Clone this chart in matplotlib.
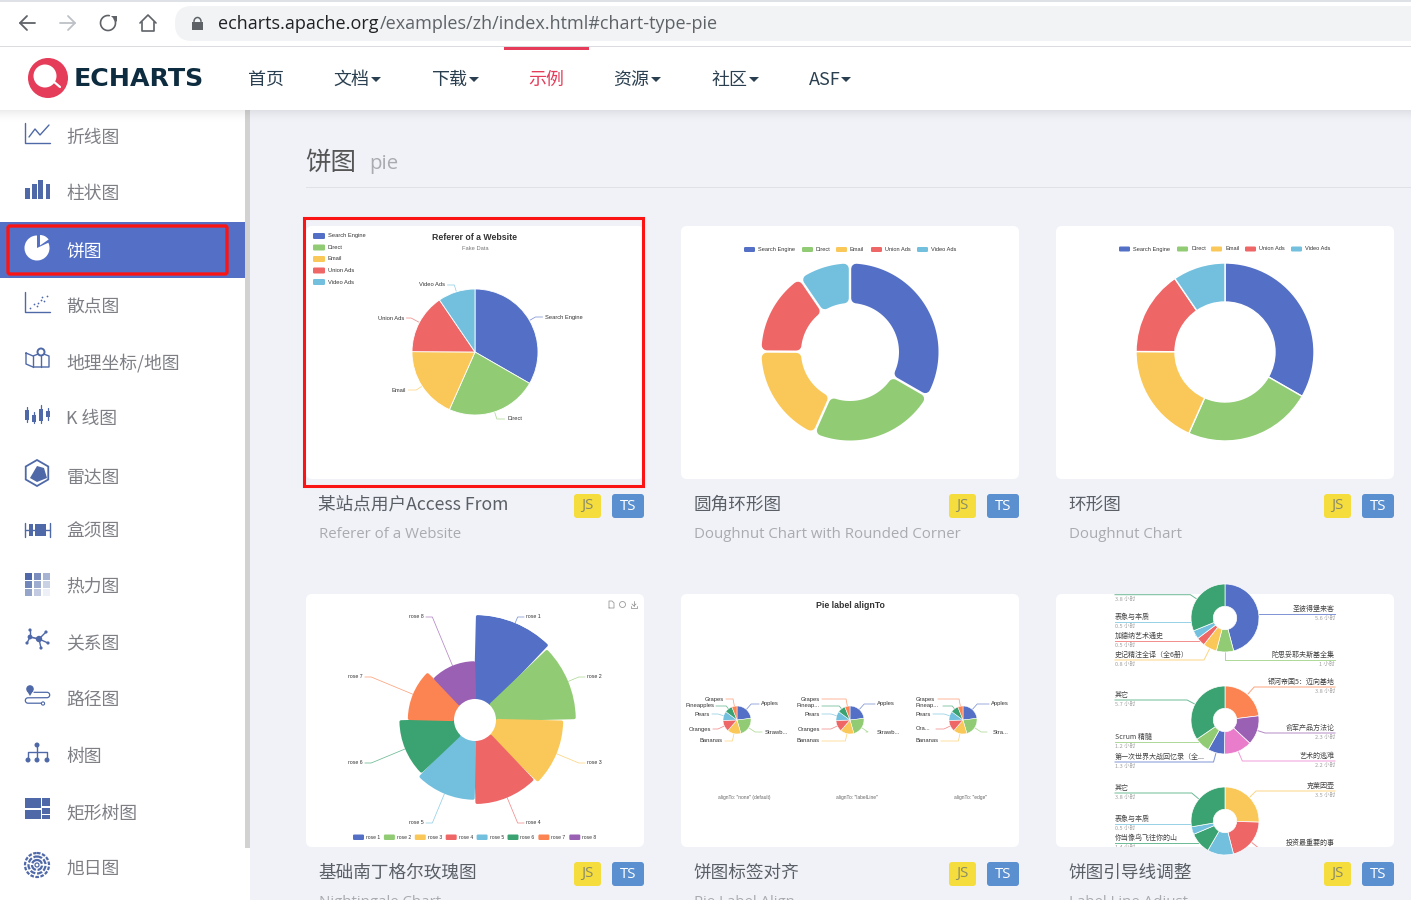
import numpy as np
import matplotlib
matplotlib.use("Agg")
import matplotlib.pyplot as plt
from matplotlib.patches import Rectangle, FancyBboxPatch, Circle, Wedge, Polygon, RegularPolygon
from matplotlib.transforms import Bbox

# values
palette = ["#5470c6", "#91cc75", "#fac858", "#ee6666", "#73c0de", "#3ba272", "#fc8452", "#9a60b4", "#ea7ccc"]

nav_items = ["首页", "文档", "下载", "示例", "资源", "社区", "ASF"]
side_items = ["折线图", "柱状图", "饼图", "散点图", "地理坐标/地图", "K 线图", "雷达图", "盒须图",
              "热力图", "关系图", "路径图", "树图", "矩形树图", "旭日图"]

card_titles = ["某站点用户Access From", "圆角环形图", "环形图", "基础南丁格尔玫瑰图", "饼图标签对齐", "饼图引导线调整"]
card_subtitles = ["Referer of a Website", "Doughnut Chart with Rounded Corner", "Doughnut Chart",
                  "Nightingale Chart", "Pie Label Align", "Label Line Adjust"]

source_names = ["Search Engine", "Direct", "Email", "Union Ads", "Video Ads"]
source_values = [1048, 735, 580, 484, 300]

rose_names = ["rose 1", "rose 2", "rose 3", "rose 4", "rose 5", "rose 6", "rose 7", "rose 8"]
rose_values = [40, 38, 32, 30, 28, 26, 22, 18]

fruit_values = [70, 68, 48, 40, 32, 27, 18]
fruit_full = ["Apples", "Strawb...", "Bananas", "Oranges", "Pears", "Pineapples", "Grapes"]
fruit_line = ["Apples", "Strawb...", "Bananas", "Oranges", "Pears", "Pineap...", "Grapes"]
fruit_edge = ["Apples", "Stra...", "Bananas", "Ora...", "Pears", "Pineap...", "Grapes"]
align_captions = ['alignTo: "none" (default)', 'alignTo: "labelLine"', 'alignTo: "edge"']

books_a = ["圣彼得堡来客", "陀思妥耶夫斯基全集", "史记精注全译（全6册）", "加德纳艺术通史", "表象与本质", "其它"]
hours_a = [5.6, 1, 0.8, 0.5, 0.5, 3.8]
colors_a = [0, 1, 2, 3, 4, 5]
books_b = ["银河帝国5：迈向基地", "俞军产品方法论", "艺术的逃难", "第一次世界大战回忆录（全...", "Scrum 精髓", "其它"]
hours_b = [3.8, 2.3, 2.2, 1.3, 1.2, 5.7]
colors_b = [6, 7, 8, 0, 1, 5]
books_c = ["克莱因壶", "投资最重要的事", "简读中国史", "你当像鸟飞往你的山", "表象与本质", "其它"]
hours_c = [3.5, 2.8, 1.7, 1.4, 0.5, 3.8]
colors_c = [2, 3, 4, 5, 4, 5]

CJK = ["Noto Sans CJK SC", "DejaVu Sans"]
LATIN = ["Liberation Sans", "DejaVu Sans"]
ICON = "#4f69a8"
W, H = 1411, 900

fig = plt.figure(figsize=(W / 100, H / 100), dpi=100, facecolor="white")
page = fig.add_axes([0, 0, 1, 1], zorder=0)
page.set_xlim(0, W)
page.set_ylim(H, 0)
page.axis("off")


def txt(x, y, s, px, color="#333333", ha="left", va="center", weight="normal", family=CJK, **kw):
    return page.text(x, y, s, fontsize=px * 0.72, color=color, ha=ha, va=va, weight=weight, family=family, **kw)


def box(x0, y0, x1, y1, color, z=1, **kw):
    page.add_patch(Rectangle((x0, y0), x1 - x0, y1 - y0, facecolor=color, edgecolor="none", zorder=z, **kw))


def rbox(x0, y0, x1, y1, color, rad=3, z=1, **kw):
    p = FancyBboxPatch((x0 + rad, y0 + rad), x1 - x0 - 2 * rad, y1 - y0 - 2 * rad,
                       boxstyle="round,pad=%g,rounding_size=%g" % (rad, rad),
                       facecolor=color, edgecolor="none", zorder=z, **kw)
    page.add_patch(p)
    return p


def stroke(xs, ys, color=ICON, lw=1.0, z=4, **kw):
    page.plot(xs, ys, color=color, lw=lw, zorder=z, solid_capstyle="round", solid_joinstyle="round", **kw)


def pie_axes(cx, cy, r, top=0, bottom=H):
    # axes box in page pixels, cropped to the card
    y0, y1 = max(cy - r, top), min(cy + r, bottom)
    ax = fig.add_axes([(cx - r) / W, 1 - y1 / H, 2 * r / W, (y1 - y0) / H], zorder=2)
    return ax, (-r, r), (cy - y1, cy - y0)


def draw_pie(cx, cy, r, values, colors, inner=0, top=0, bottom=H, edge=1.0):
    ax, xl, yl = pie_axes(cx, cy, r, top, bottom)
    wp = dict(edgecolor="white", linewidth=edge)
    if inner:
        wp["width"] = r - inner
    wedges, _ = ax.pie(values, colors=colors, radius=r, startangle=90, counterclock=False, wedgeprops=wp)
    ax.set_aspect("auto")
    ax.set_xlim(*xl)
    ax.set_ylim(*yl)
    return [np.radians(90 - (w.theta1 + w.theta2) / 2) for w in wedges]


def leader(cx, cy, r, mid, line_y, end_x, color, clip=None, lw=0.55):
    # radial stub up to the label height, then flat out to the label
    sx, sy = cx + r * np.sin(mid), cy - r * np.cos(mid)
    c = np.cos(mid)
    t_len = (line_y - sy) / (-c) if abs(c) > 0.05 else 0
    ex = sx + max(t_len, 0) * np.sin(mid)
    lines = page.plot([sx, ex, end_x], [sy, line_y, line_y], color=color, lw=lw, zorder=1.5, alpha=0.75,
                      solid_joinstyle="round")
    if clip is not None:
        lines[0].set_clip_box(clip)


# ---- page background and chrome
box(250, 110, W, H, "#f0f2f8", z=0)
box(0, 0, W, 2, "#dee1e6", z=5)
box(0, 46, W, 47, "#dadce0", z=5)
rbox(175, 6, W + 40, 41, "#f1f3f4", rad=17, z=5)
txt(218, 24, "echarts.apache.org", 18, "#202124", family="Open Sans", zorder=6)
txt(380, 24, "/examples/zh/index.html#chart-type-pie", 18, "#5f6368", family="Open Sans", zorder=6)

# browser buttons
stroke([20, 35], [23, 23], "#5f6368", 1.3, z=6)
stroke([27, 20, 27], [16, 23, 30], "#5f6368", 1.3, z=6)
stroke([60, 75], [23, 23], "#bdc1c6", 1.3, z=6)
stroke([68, 75, 68], [16, 23, 30], "#bdc1c6", 1.3, z=6)
ang = np.radians(np.linspace(-35, 280, 40))
stroke(108 + 7.5 * np.cos(ang), 23 + 7.5 * np.sin(ang), "#5f6368", 1.2, z=6)
page.add_patch(Polygon([[111, 16], [117, 16], [117, 22]], facecolor="#5f6368", zorder=6))
stroke([140, 148, 156], [23, 15, 23], "#5f6368", 1.2, z=6)
stroke([142, 142, 154, 154], [22, 31, 31, 22], "#5f6368", 1.2, z=6)
box(192, 22, 203, 30, "#5f6368", z=6)
ang = np.radians(np.linspace(180, 360, 20))
stroke(197.5 + 3.5 * np.cos(ang), 21.5 + 4 * np.sin(ang), "#5f6368", 1.1, z=6)

# header bar with soft shadow
for i in range(14):
    box(0, 110 + i, W, 111 + i, "#000000", z=3, alpha=0.07 * (1 - i / 14) ** 2)
box(0, 47, W, 110, "white", z=3)
box(504, 47, 589, 49.5, "#e43c59", z=4)

page.add_patch(Circle((48, 78), 20, facecolor="#e43c59", zorder=4))
page.add_patch(Circle((45, 76), 11.5, facecolor="white", zorder=4))
stroke([53, 60], [81, 87], "white", 1.6, z=5)
txt(74, 79, "ECHARTS", 25.2, "#0d2c3f", weight="bold", family="DejaVu Sans", zorder=4)

nav_x = [248, 333, 431, 528, 613, 711, 809]
for name, x in zip(nav_items, nav_x):
    col = "#e43c59" if name == "示例" else "#2a3f4f"
    t = txt(x, 80, name, 18, col, zorder=5)
    if name not in ("首页", "示例"):
        ax0 = x + (38 if name != "ASF" else 32)
        page.add_patch(Polygon([[ax0, 77], [ax0 + 10, 77], [ax0 + 5, 82]], facecolor="#2a3f4f", zorder=5))

# sidebar
box(0, 110, 245, H, "white", z=1)
box(245, 110, 250, 848, "#d2d2d2", z=1)
box(0, 222, 245, 278, "#5470c6", z=1.2)
page.add_patch(FancyBboxPatch((8, 226), 219, 48, boxstyle="round,pad=0,rounding_size=2", facecolor="none",
                              edgecolor="#fa1414", lw=2.4, zorder=1.3))
side_y = [138, 194, 252, 307, 363, 419, 478, 532, 588, 644, 700, 757, 813, 869]
for name, y in zip(side_items, side_y):
    txt(66.5, y, name, 17.8, "white" if name == "饼图" else "#7d7f85", zorder=4)

# line icon
stroke([25, 25, 50], [123, 143, 143])
stroke([29, 35, 40, 49], [137, 129, 135, 125])
# bar icon
for x0, x1, y0 in [(25, 30, 188), (32, 37, 184), (38, 43, 180), (46, 50, 184)]:
    box(x0, y0, x1, 199, ICON, z=4)
# pie icon
page.add_patch(Wedge((37, 248), 12.5, -25, 270, facecolor="white", zorder=4))
page.add_patch(Wedge((40, 245.5), 10.5, 270, 325, facecolor="white", zorder=4))
# scatter icon
stroke([25, 25, 50], [292, 312, 312])
page.scatter([30, 34, 38, 42, 44, 47, 37, 41], [308, 304, 303, 297, 301, 296, 306, 300], s=1.6, color=ICON, zorder=4,
             linewidths=0)
# map icon
stroke([26, 33, 41, 49, 49, 41, 33, 26, 26], [353, 356, 353, 356, 367, 367, 367, 364, 353])
stroke([33, 33], [356, 367])
stroke([41, 41], [356, 367])
page.add_patch(Circle((41, 352), 3.5, facecolor="white", edgecolor=ICON, lw=1.4, zorder=5))
# candle icon
for x, y0, y1, b0, b1 in [(27, 407, 422, 410, 420), (34, 412, 423, 415, 422), (41, 405, 423, 409, 421),
                          (48, 408, 420, 411, 417)]:
    stroke([x, x], [y0, y1], lw=0.9)
    box(x - 2, b0, x + 2, b1, ICON, z=4)
# radar icon
page.add_patch(RegularPolygon((37, 473), 6, radius=13, facecolor="none", edgecolor=ICON, lw=1.3, zorder=4))
page.add_patch(Polygon([[30, 478], [37, 466], [44, 468], [47, 478], [37, 482]], facecolor=ICON, zorder=4))
# boxplot icon
stroke([25, 25], [523, 537])
stroke([50, 50], [523, 537])
stroke([25, 50], [530, 530])
box(29, 524, 33, 536, ICON, z=4)
box(35, 524, 46, 536, ICON, z=4)
# heatmap icon
for j, y0 in enumerate([573, 581, 589]):
    for i, x0 in enumerate([25, 34, 43]):
        box(x0, y0, x0 + 7, y0 + 6.5, ICON, z=4, alpha=1 - 0.25 * i - 0.2 * j)
# graph icon
for x, y in [(30, 637), (30, 630), (27, 643), (46, 632), (48, 643), (41, 648)]:
    hub = (39, 639) if x > 35 else (30, 637)
    stroke([hub[0], x], [hub[1], y], lw=1.0)
    page.add_patch(Circle((x, y), 1.6, facecolor=ICON, zorder=4))
stroke([30, 39], [637, 639], lw=1.2)
page.add_patch(Circle((39, 639), 3.2, facecolor=ICON, zorder=4))
page.add_patch(Circle((30, 637), 2.4, facecolor=ICON, zorder=4))
# route icon
page.add_patch(Circle((30, 689), 3.8, facecolor=ICON, zorder=4))
page.add_patch(Polygon([[27, 691], [33, 691], [30, 696]], facecolor=ICON, zorder=4))
ang = np.radians(np.linspace(-90, 90, 12))
rx = 47 + 2.7 * np.cos(ang)
ry = 695 + 2.7 * np.sin(ang)
lx = 28 - 2.7 * np.cos(ang)
ly = 700.5 + 2.7 * np.sin(ang)
stroke(np.r_[34, rx, lx, 43], np.r_[692.3, ry, ly, 703.2], lw=0.9)
page.add_patch(Circle((43, 703.5), 1.6, facecolor="white", edgecolor=ICON, lw=0.8, zorder=5))
# tree icon
stroke([37, 37], [745, 760], lw=1.0)
stroke([28, 28, 47, 47], [760, 752, 752, 760], lw=1.0)
for x, y in [(37, 745), (28, 760), (37, 760), (47, 760)]:
    page.add_patch(Circle((x, y), 2.5, facecolor=ICON, zorder=4))
# treemap icon
for x0, x1, y0, y1 in [(25, 40.5, 798, 808), (25, 40.5, 809.5, 819), (42, 50, 798, 806), (42, 50, 807.5, 814),
                       (42, 50, 815, 819)]:
    box(x0, y0, x1, y1, ICON, z=4)
# sunburst icon
for rad, dash in [(12, (1.6, 0.7)), (8.5, (2.4, 0.8)), (5, (3, 0.8))]:
    page.add_patch(Circle((37, 865), rad, facecolor="none", edgecolor=ICON, lw=1.6, ls=(0, dash), zorder=4))
page.add_patch(Circle((37, 865), 2, facecolor="none", edgecolor=ICON, lw=0.9, zorder=4))

# heading
txt(305, 163, "饼图", 25.5, "#555555")
txt(369, 164, "pie", 20.5, "#a9abb0", family="Open Sans")
box(306, 187, W, 188, "#dfe1e6", z=1)

# ---- cards
col_x = [306, 681, 1056]
row_y = [226, 594]
cards = []
for r, y0 in enumerate(row_y):
    for c, x0 in enumerate(col_x):
        cards.append(rbox(x0, y0, x0 + 338, y0 + 253, "white", rad=6, z=1))
        i = r * 3 + c
        txt(x0 + 12.5, y0 + 279, card_titles[i], 17.6, "#5a5f66")
        txt(x0 + 13, y0 + 308, card_subtitles[i], 15, "#a9abb0", family="Open Sans")
        rbox(x0 + 268, y0 + 268, x0 + 295, y0 + 292, "#f5dd3d", rad=3)
        txt(x0 + 281.5, y0 + 280, "JS", 15, "#8a8a6a", ha="center", family="Open Sans")
        rbox(x0 + 306, y0 + 268, x0 + 338, y0 + 292, "#5a8fd0", rad=3)
        txt(x0 + 322, y0 + 280, "TS", 15, "white", ha="center", family="Open Sans")

page.add_patch(Rectangle((304, 218), 339, 268, facecolor="none", edgecolor="#fa1414", lw=2.2, zorder=2))

# card 1, plain pie
txt(475, 237, "Referer of a Website", 8.8, "#333333", ha="center", weight="bold", family=LATIN)
txt(475, 249, "Fake Data", 5.8, "#777777", ha="center", family=LATIN)
for i, name in enumerate(source_names):
    y = 236 + 11.5 * i
    rbox(313, y - 3, 325, y + 3, palette[i], rad=1.2)
    txt(328, y, name, 5.8, "#333333", family=LATIN)
mids = draw_pie(475, 352, 63, source_values, palette[:5], edge=0.6)
label_spots = [(317, 545, "left"), (419, 507, "left"), (390, 406, "right"), (318, 404, "right"), (285, 445, "right")]
for mid, name, col, (y, x, ha) in zip(mids, source_names, palette, label_spots):
    end = x - 2.5 if ha == "left" else x + 2.5
    leader(475, 352, 63, mid, y, end, col)
    txt(x, y, name, 5.8, "#333333", ha=ha, family=LATIN)


# card 2, doughnut with rounded corners
def rounded_ring(cx, cy, outer, inner, values, colors, corner=5.0, gap=1.2):
    ax, xl, yl = pie_axes(cx, cy, outer)
    ax.set_xlim(*xl)
    ax.set_ylim(*yl)
    ax.axis("off")
    edges = np.r_[0, np.cumsum(values)] / np.sum(values) * 2 * np.pi
    ro, ri = outer - corner, inner + corner
    d = corner + gap
    for a0, a1, col in zip(edges[:-1], edges[1:], colors):
        ta = np.linspace(a0 + d / ro, a1 - d / ro, 60)
        tb = np.linspace(a1 - d / ri, a0 + d / ri, 60)
        pts = np.r_[np.c_[ro * np.sin(ta), ro * np.cos(ta)], np.c_[ri * np.sin(tb), ri * np.cos(tb)]]
        ax.add_patch(Polygon(pts, closed=True, facecolor=col, edgecolor=col, lw=corner * 2 * 0.72,
                             joinstyle="round", clip_on=False))


def top_legend(xs, y):
    for x, name, col in zip(xs, source_names, palette):
        rbox(x, y - 2.5, x + 11, y + 2.5, col, rad=1.2)
        txt(x + 14, y, name, 5.6, "#333333", family=LATIN)


top_legend([744, 802, 836, 871, 917], 249.5)
rounded_ring(850, 352, 88.5, 49, source_values, palette[:5])

# card 3, doughnut
top_legend([1119, 1177, 1211, 1245, 1291], 249)
draw_pie(1225, 352, 89, source_values, palette[:5], inner=50, edge=1.0)

# card 4, rose chart on a polar axis
RC, RY, RR = 475, 720, 105
rose = fig.add_axes([(RC - RR) / W, 1 - (RY + RR) / H, 2 * RR / W, 2 * RR / H], projection="polar", zorder=2)
rose.set_theta_zero_location("N")
rose.set_theta_direction(-1)
rose.set_rlim(0, 50)
rose.axis("off")
theta = (np.arange(8) + 0.5) * np.pi / 4
rose.bar(theta, np.array(rose_values) - 1.6, width=np.pi / 4 - 0.05, bottom=10.8, color=palette[:8],
         edgecolor=palette[:8], linewidth=2.4, joinstyle="round")
rose_spots = [(617, 526, "left"), (677, 587, "left"), (763, 587, "left"), (823, 526, "left"),
              (823, 424, "right"), (763, 363, "right"), (677, 363, "right"), (617, 424, "right")]
for th, v, name, col, (y, x, ha) in zip(theta, rose_values, rose_names, palette, rose_spots):
    end = x - 2 if ha == "left" else x + 2
    leader(RC, RY, 21 + 84 * v / 40, th, y, end, col)
    txt(x, y, name, 5.3, "#333333", ha=ha, family=LATIN)
for i, name in enumerate(rose_names):
    x = 353 + 30.9 * i
    rbox(x, 834.5, x + 11, 840, palette[i], rad=1.2)
    txt(x + 13, 837.5, name, 5, "#333333", family=LATIN)
# toolbox icons
stroke([609, 609, 612, 614, 614, 609], [608, 601, 601, 603, 608, 608], "#9a9a9a", 0.6)
page.add_patch(Circle((622.5, 604.5), 3, facecolor="none", edgecolor="#9a9a9a", lw=0.6, zorder=4))
stroke([634, 634], [601, 606], "#9a9a9a", 0.6)
stroke([632, 634, 636], [604, 606, 604], "#9a9a9a", 0.6)
stroke([631, 631, 637, 637], [606, 608, 608, 606], "#9a9a9a", 0.6)

# card 5, labels aligned three ways
txt(850, 605, "Pie label alignTo", 8.8, "#333333", ha="center", weight="bold", family=LATIN)
fruit_y = [704, 732, 741, 729, 714, 706, 699]
# (text x, align, leader end) for each of the seven labels, per pie
fruit_x = [
    [(761, "left", 759), (765, "left", 762), (723, "right", 725), (711, "right", 713), (710, "right", 712),
     (714, "right", 716), (724, "right", 726)],
    [(877, "left", 875), (877, "left", 866), (820, "right", 822), (820, "right", 822), (820, "right", 822),
     (820, "right", 822), (820, "right", 822)],
    [(1009, "right", 989), (1009, "right", 987), (916, "left", 941), (916, "left", 936), (916, "left", 933),
     (916, "left", 943), (916, "left", 938)],
]
fruit_cols = [palette[i] for i in [0, 1, 2, 3, 4, 5, 6]]
for cx, names, spots, cap, cap_x in zip([737, 850, 963], [fruit_full, fruit_line, fruit_edge], fruit_x,
                                        align_captions, [744, 857, 970]):
    mids = draw_pie(cx, 720, 14, fruit_values, fruit_cols, edge=0.35)
    for mid, name, col, y, (x, ha, end) in zip(mids, names, fruit_cols, fruit_y, spots):
        leader(cx, 720, 14, mid, y, end, col)
        txt(x, y, name, 5.9, "#333333", ha=ha, family=LATIN)
    txt(cap_x, 798, cap, 4.9, "#666666", ha="center", family=LATIN)

# card 6, nested doughnuts, cut off by the card (clip box in display pixels)
card6 = Bbox.from_extents(1056, H - 847, 1394, H - 594)


def nested(cy, names, hours, color_idx, line_ys):
    cols = [palette[i] for i in color_idx]
    mids = draw_pie(1225, cy, 34, hours, cols, inner=11.7, top=594, bottom=847, edge=0.5)
    for mid, name, h, col, y in zip(mids, names, hours, cols, line_ys):
        right = np.sin(mid) > -1e-6
        leader(1225, cy, 34, mid, y, 1335 if right else 1115, col, clip=card6, lw=0.7)
        x, ha = (1335, "right") if right else (1115, "left")
        a = txt(x, y - 5, name, 7, "#444444", ha=ha, clip_on=True)
        b = txt(x, y + 4.5, "%g 小时" % h, 5.6, "#a0a0a0", ha=ha, clip_on=True)
        a.set_clip_box(card6)
        b.set_clip_box(card6)


nested(618, books_a, hours_a, colors_a, [614, 660, 660, 641, 622, 594.7])
nested(720, books_b, hours_b, colors_b, [687, 733, 761, 762, 742, 700])
nested(821, books_c, hours_c, colors_c, [791, 848, 862, 843, 824, 793])

fig.savefig("out.png", dpi=100)
